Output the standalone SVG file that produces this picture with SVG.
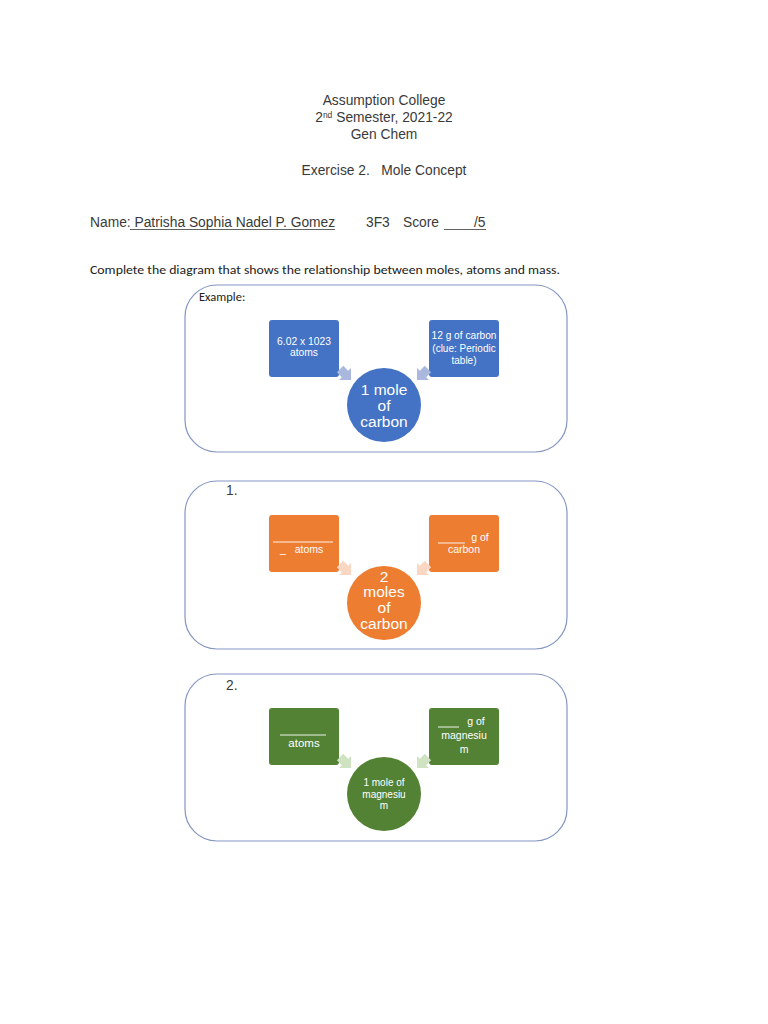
<svg xmlns="http://www.w3.org/2000/svg" width="768" height="1024" viewBox="0 0 768 1024">
<style>
.hd{font-family:"Liberation Sans",Arial,sans-serif;font-size:13.8px;fill:#3a3a3a}
.cb{font-family:"Carlito","Open Sans","Liberation Sans",sans-serif;font-size:12.5px;fill:#222}
.panel{fill:#fff;stroke:#8496c2;stroke-width:1.2}
.bx{font-family:"Liberation Sans",Arial,sans-serif;fill:#fff;text-anchor:middle}
.blue{fill:#4472c4}.orange{fill:#ed7d31}.green{fill:#548235}
.ab{fill:#a9b8dc}.ao{fill:#f9d7c2}.ag{fill:#cfe3c3}
.ln{stroke:#fff;stroke-width:0.9}
</style>
<defs>
<polygon id="arr" points="-7,-4.5 0,-4.5 0,-8.5 8.5,0 0,8.5 0,4.5 -7,4.5"/>
</defs>
<rect width="768" height="1024" fill="#fff"/>
<g id="header">
<text class="hd" x="384" y="105" text-anchor="middle">Assumption College</text>
<text class="hd" x="384" y="122" text-anchor="middle">2<tspan font-size="8.5" dy="-4.5">nd</tspan><tspan dy="4.5"> Semester, 2021-22</tspan></text>
<text class="hd" x="384" y="139" text-anchor="middle">Gen Chem</text>
<text class="hd" x="384" y="175" text-anchor="middle" xml:space="preserve">Exercise 2.   Mole Concept</text>
<text class="hd" x="90" y="227">Name: Patrisha Sophia Nadel P. Gomez</text>
<line x1="130" y1="229.5" x2="335" y2="229.5" stroke="#3a3a3a" stroke-width="0.8"/>
<text class="hd" x="366" y="227">3F3</text>
<text class="hd" x="403" y="227">Score</text>
<text class="hd" x="474" y="227">/5</text>
<line x1="444" y1="229.5" x2="486" y2="229.5" stroke="#3a3a3a" stroke-width="0.8"/>
<text class="cb" x="90" y="274" textLength="470" lengthAdjust="spacingAndGlyphs">Complete the diagram that shows the relationship between moles, atoms and mass.</text>
</g>
<g id="panel-example">
<rect class="panel" x="185" y="285" width="382" height="167" rx="32"/>
<text class="cb" x="199" y="301">Example:</text>
</g>
<g id="ex-atoms">
<rect class="blue" x="269" y="320" width="70" height="57" rx="3"/>
<text class="bx" x="304" y="345" font-size="10.3">6.02 x 1023</text>
<text class="bx" x="304" y="356" font-size="10.3">atoms</text>
</g>
<g id="ex-mass">
<rect class="blue" x="429" y="320" width="70" height="57" rx="3"/>
<text class="bx" x="464" y="339" font-size="10" textLength="65" lengthAdjust="spacingAndGlyphs">12 g of carbon</text>
<text class="bx" x="464" y="352" font-size="10">(clue: Periodic</text>
<text class="bx" x="464" y="364" font-size="10">table)</text>
</g>
<g id="ex-mole">
<circle class="blue" cx="384" cy="405" r="37"/>
<text class="bx" x="384" y="395" font-size="15.5">1 mole</text>
<text class="bx" x="384" y="411" font-size="15.5">of</text>
<text class="bx" x="384" y="427" font-size="15.5">carbon</text>
</g>
<g id="panel-1">
<rect class="panel" x="185" y="481" width="382" height="168" rx="32"/>
<text class="hd" x="226" y="495" font-size="12">1.</text>
</g>
<g id="q1-atoms">
<rect class="orange" x="269" y="515" width="70" height="57" rx="3"/>
<line class="ln" x1="273" y1="542" x2="333" y2="542"/>
<text class="bx" x="283" y="553" font-size="10.5">_</text>
<text class="bx" x="309" y="553" font-size="10.5">atoms</text>
</g>
<g id="q1-mass">
<rect class="orange" x="429" y="515" width="70" height="57" rx="3"/>
<line class="ln" x1="438" y1="543" x2="465" y2="543"/>
<text class="bx" x="480" y="541" font-size="10.5">g of</text>
<text class="bx" x="464" y="553" font-size="10.5">carbon</text>
</g>
<g id="q1-mole">
<circle class="orange" cx="384" cy="603" r="37"/>
<text class="bx" x="384" y="582" font-size="15.5">2</text>
<text class="bx" x="384" y="597" font-size="15.5">moles</text>
<text class="bx" x="384" y="613" font-size="15.5">of</text>
<text class="bx" x="384" y="629" font-size="15.5">carbon</text>
</g>
<g id="panel-2">
<rect class="panel" x="185" y="674" width="382" height="167" rx="32"/>
<text class="hd" x="226" y="690" font-size="12">2.</text>
</g>
<g id="q2-atoms">
<rect class="green" x="269" y="708" width="70" height="57" rx="3"/>
<line class="ln" x1="280" y1="735" x2="326" y2="735"/>
<text class="bx" x="304" y="747" font-size="11.5">atoms</text>
</g>
<g id="q2-mass">
<rect class="green" x="429" y="708" width="70" height="57" rx="3"/>
<line class="ln" x1="438" y1="727" x2="459" y2="727"/>
<text class="bx" x="476" y="725" font-size="10.5">g of</text>
<text class="bx" x="464" y="739" font-size="10.5">magnesiu</text>
<text class="bx" x="464" y="753" font-size="10.5">m</text>
</g>
<g id="q2-mole">
<circle class="green" cx="384" cy="794" r="37"/>
<text class="bx" x="384" y="786" font-size="10">1 mole of</text>
<text class="bx" x="384" y="798" font-size="10">magnesiu</text>
<text class="bx" x="384" y="809" font-size="10">m</text>
</g>
<g id="connectors">
<use href="#arr" class="ab" transform="translate(345,374) rotate(45)"/>
<use href="#arr" class="ab" transform="translate(423,374) rotate(135)"/>
<use href="#arr" class="ao" transform="translate(345,569) rotate(45)"/>
<use href="#arr" class="ao" transform="translate(423,569) rotate(135)"/>
<use href="#arr" class="ag" transform="translate(345,762) rotate(45)"/>
<use href="#arr" class="ag" transform="translate(423,762) rotate(135)"/>
</g>
</svg>
